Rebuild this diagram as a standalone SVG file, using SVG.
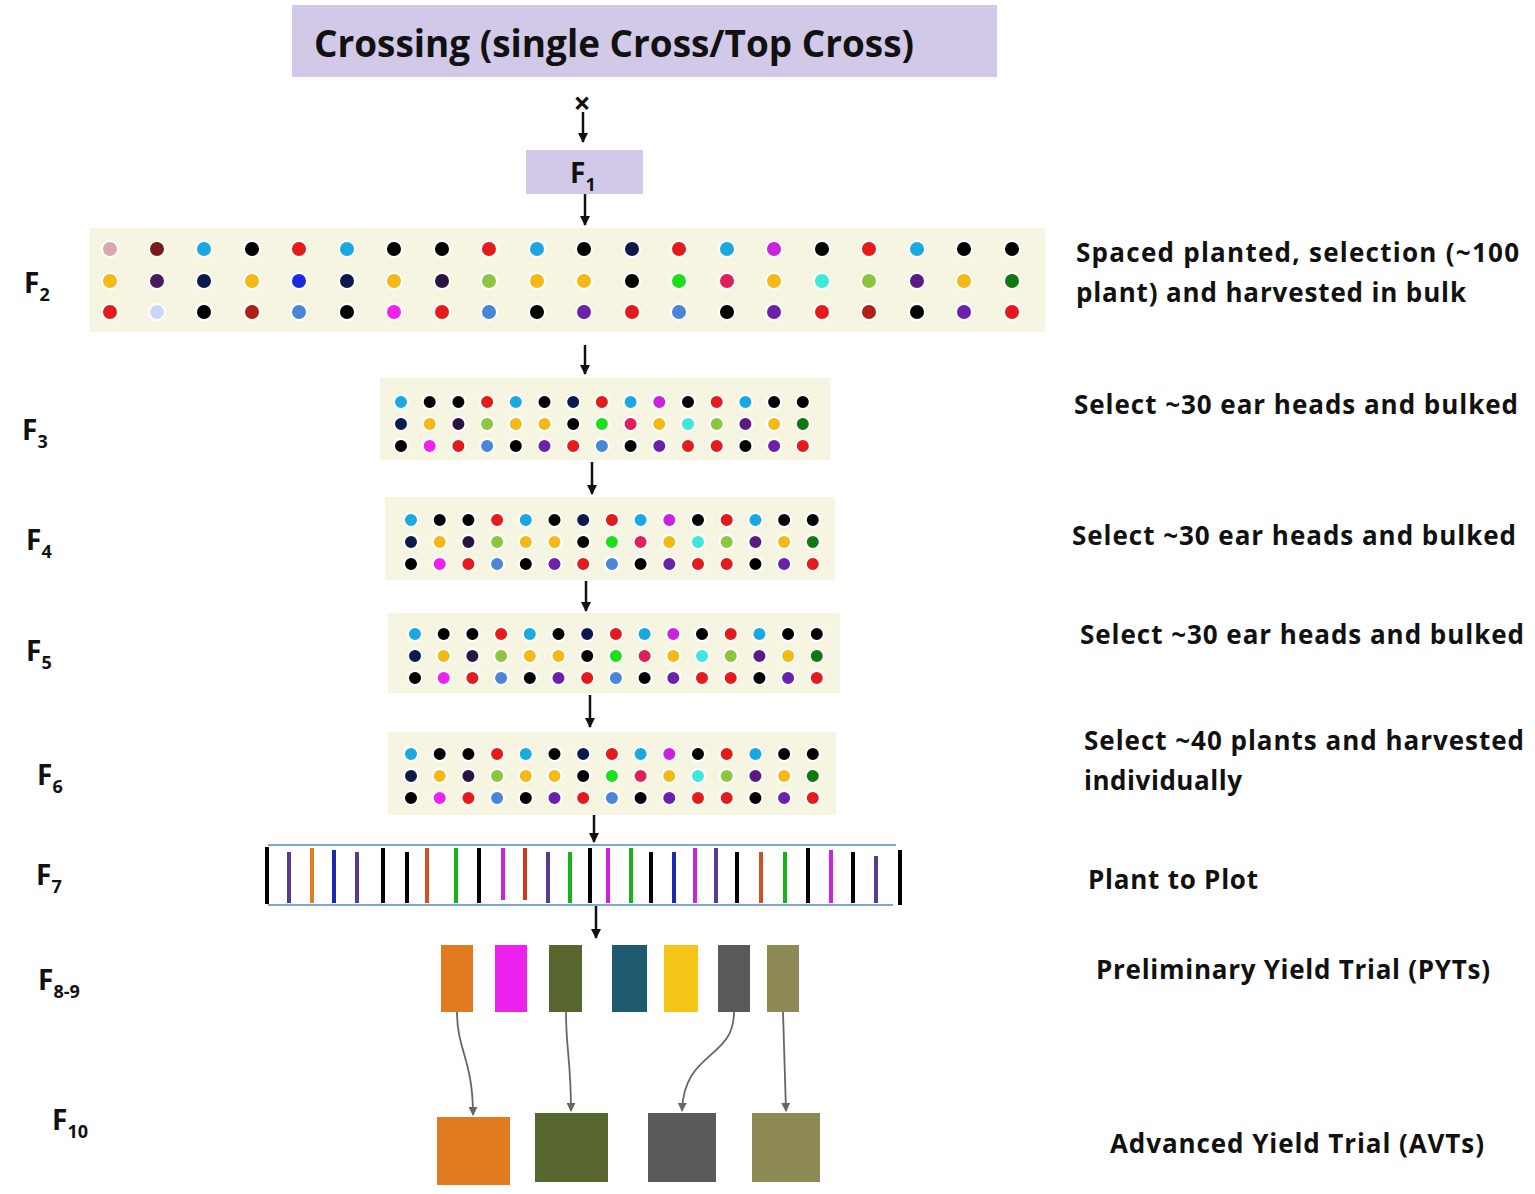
<svg xmlns="http://www.w3.org/2000/svg" width="1535" height="1194" viewBox="0 0 1535 1194">
<style>
.lab{font-family:"Open Sans","Liberation Sans",sans-serif;font-weight:bold;fill:#111}
.gen{font-family:"Open Sans","Liberation Sans",sans-serif;font-weight:bold;font-size:28px;fill:#111}
.desc{font-size:26px}
.bed{fill:#f6f5e2}
.c{stroke:#fff;stroke-width:2}
.ar{stroke:#111;stroke-width:2.5;fill:none}
.cv{stroke:#666;stroke-width:1.8;fill:none}
</style>
<defs>
<marker id="ah" viewBox="0 0 10 10" refX="9" refY="5" markerWidth="4" markerHeight="4" orient="auto"><path d="M0,0L10,5L0,10z" fill="#111"/></marker>
<marker id="ag" viewBox="0 0 10 10" refX="9" refY="5" markerWidth="5" markerHeight="5" orient="auto"><path d="M0,0L10,5L0,10z" fill="#666"/></marker>
<g id="dots15">
<g class="c">
<circle cx="0" cy="0" r="7" fill="#1aa8e0"/><circle cx="28.7" cy="0" r="7" fill="#000"/><circle cx="57.4" cy="0" r="7" fill="#000"/><circle cx="86.1" cy="0" r="7" fill="#e51a1a"/><circle cx="114.8" cy="0" r="7" fill="#1aa8e0"/><circle cx="143.5" cy="0" r="7" fill="#000"/><circle cx="172.2" cy="0" r="7" fill="#0b1a4a"/><circle cx="200.9" cy="0" r="7" fill="#e51a1a"/><circle cx="229.6" cy="0" r="7" fill="#1aa8e0"/><circle cx="258.3" cy="0" r="7" fill="#cc22dd"/><circle cx="287" cy="0" r="7" fill="#000"/><circle cx="315.7" cy="0" r="7" fill="#e51a1a"/><circle cx="344.4" cy="0" r="7" fill="#1aa8e0"/><circle cx="373.1" cy="0" r="7" fill="#000"/><circle cx="401.8" cy="0" r="7" fill="#000"/>
<circle cx="0" cy="22" r="7" fill="#0b1a4a"/><circle cx="28.7" cy="22" r="7" fill="#f5b915"/><circle cx="57.4" cy="22" r="7" fill="#2a1540"/><circle cx="86.1" cy="22" r="7" fill="#8cc63f"/><circle cx="114.8" cy="22" r="7" fill="#f5b915"/><circle cx="143.5" cy="22" r="7" fill="#f5b915"/><circle cx="172.2" cy="22" r="7" fill="#000"/><circle cx="200.9" cy="22" r="7" fill="#1adf1a"/><circle cx="229.6" cy="22" r="7" fill="#e0205a"/><circle cx="258.3" cy="22" r="7" fill="#f5b915"/><circle cx="287" cy="22" r="7" fill="#3de8d8"/><circle cx="315.7" cy="22" r="7" fill="#8cc63f"/><circle cx="344.4" cy="22" r="7" fill="#5a1a80"/><circle cx="373.1" cy="22" r="7" fill="#f5b915"/><circle cx="401.8" cy="22" r="7" fill="#117711"/>
<circle cx="0" cy="44" r="7" fill="#000"/><circle cx="28.7" cy="44" r="7" fill="#ee22ee"/><circle cx="57.4" cy="44" r="7" fill="#e51a1a"/><circle cx="86.1" cy="44" r="7" fill="#4a86d8"/><circle cx="114.8" cy="44" r="7" fill="#000"/><circle cx="143.5" cy="44" r="7" fill="#6a22aa"/><circle cx="172.2" cy="44" r="7" fill="#e51a1a"/><circle cx="200.9" cy="44" r="7" fill="#4a86d8"/><circle cx="229.6" cy="44" r="7" fill="#000"/><circle cx="258.3" cy="44" r="7" fill="#6a22aa"/><circle cx="287" cy="44" r="7" fill="#e51a1a"/><circle cx="315.7" cy="44" r="7" fill="#e51a1a"/><circle cx="344.4" cy="44" r="7" fill="#000"/><circle cx="373.1" cy="44" r="7" fill="#6a22aa"/><circle cx="401.8" cy="44" r="7" fill="#e51a1a"/>
</g>
</g>
</defs>
<rect width="1535" height="1194" fill="#fff"/>

<g id="crossing"><rect x="292" y="5" width="705" height="72" fill="#d2c9e8"/><text class="lab" x="614" y="57" font-size="37" text-anchor="middle" textLength="600" lengthAdjust="spacingAndGlyphs">Crossing (single Cross/Top Cross)</text>
<text class="lab" x="582" y="114" font-size="30" text-anchor="middle">×</text></g>
<g id="f1"><rect x="526" y="150" width="117" height="44" fill="#d2c9e8"/><text class="lab" x="570" y="183" font-size="28">F<tspan font-size="18" dy="8">1</tspan></text></g>

<g id="f2">
<rect class="bed" x="90" y="228" width="955" height="104"/>
<g class="c">
<circle cx="110" cy="249" r="8" fill="#d9a7b0"/><circle cx="157" cy="249" r="8" fill="#7a1a1a"/><circle cx="204" cy="249" r="8" fill="#1aa8e0"/><circle cx="252" cy="249" r="8" fill="#000"/><circle cx="299" cy="249" r="8" fill="#e51a1a"/><circle cx="347" cy="249" r="8" fill="#1aa8e0"/><circle cx="394" cy="249" r="8" fill="#000"/><circle cx="442" cy="249" r="8" fill="#000"/><circle cx="489" cy="249" r="8" fill="#e51a1a"/><circle cx="537" cy="249" r="8" fill="#1aa8e0"/><circle cx="584" cy="249" r="8" fill="#000"/><circle cx="632" cy="249" r="8" fill="#0b1a4a"/><circle cx="679" cy="249" r="8" fill="#e51a1a"/><circle cx="727" cy="249" r="8" fill="#1aa8e0"/><circle cx="774" cy="249" r="8" fill="#cc22dd"/><circle cx="822" cy="249" r="8" fill="#000"/><circle cx="869" cy="249" r="8" fill="#e51a1a"/><circle cx="917" cy="249" r="8" fill="#1aa8e0"/><circle cx="964" cy="249" r="8" fill="#000"/><circle cx="1012" cy="249" r="8" fill="#000"/>
<circle cx="110" cy="281" r="8" fill="#f5b915"/><circle cx="157" cy="281" r="8" fill="#4a1a5a"/><circle cx="204" cy="281" r="8" fill="#0b1a4a"/><circle cx="252" cy="281" r="8" fill="#f5b915"/><circle cx="299" cy="281" r="8" fill="#1a2ae0"/><circle cx="347" cy="281" r="8" fill="#0b1a4a"/><circle cx="394" cy="281" r="8" fill="#f5b915"/><circle cx="442" cy="281" r="8" fill="#2a1540"/><circle cx="489" cy="281" r="8" fill="#8cc63f"/><circle cx="537" cy="281" r="8" fill="#f5b915"/><circle cx="584" cy="281" r="8" fill="#f5b915"/><circle cx="632" cy="281" r="8" fill="#000"/><circle cx="679" cy="281" r="8" fill="#1adf1a"/><circle cx="727" cy="281" r="8" fill="#e0205a"/><circle cx="774" cy="281" r="8" fill="#f5b915"/><circle cx="822" cy="281" r="8" fill="#3de8d8"/><circle cx="869" cy="281" r="8" fill="#8cc63f"/><circle cx="917" cy="281" r="8" fill="#5a1a80"/><circle cx="964" cy="281" r="8" fill="#f5b915"/><circle cx="1012" cy="281" r="8" fill="#117711"/>
<circle cx="110" cy="312" r="8" fill="#e51a1a"/><circle cx="157" cy="312" r="8" fill="#c8d8f5"/><circle cx="204" cy="312" r="8" fill="#000"/><circle cx="252" cy="312" r="8" fill="#b02015"/><circle cx="299" cy="312" r="8" fill="#4a86d8"/><circle cx="347" cy="312" r="8" fill="#000"/><circle cx="394" cy="312" r="8" fill="#ee22ee"/><circle cx="442" cy="312" r="8" fill="#e51a1a"/><circle cx="489" cy="312" r="8" fill="#4a86d8"/><circle cx="537" cy="312" r="8" fill="#000"/><circle cx="584" cy="312" r="8" fill="#6a22aa"/><circle cx="632" cy="312" r="8" fill="#e51a1a"/><circle cx="679" cy="312" r="8" fill="#4a86d8"/><circle cx="727" cy="312" r="8" fill="#000"/><circle cx="774" cy="312" r="8" fill="#6a22aa"/><circle cx="822" cy="312" r="8" fill="#e51a1a"/><circle cx="869" cy="312" r="8" fill="#b02015"/><circle cx="917" cy="312" r="8" fill="#000"/><circle cx="964" cy="312" r="8" fill="#6a22aa"/><circle cx="1012" cy="312" r="8" fill="#e51a1a"/>
</g></g>

<g id="f3"><rect class="bed" x="380" y="378" width="450" height="82"/><use href="#dots15" x="401" y="402"/></g>
<g id="f4"><rect class="bed" x="385" y="497" width="450" height="83"/><use href="#dots15" x="411" y="520"/></g>
<g id="f5"><rect class="bed" x="388" y="613" width="452" height="80"/><use href="#dots15" x="415" y="634"/></g>
<g id="f6"><rect class="bed" x="388" y="732" width="448" height="83"/><use href="#dots15" x="411" y="754"/></g>

<g id="f7">
<line x1="268" y1="845" x2="896" y2="845" stroke="#7aa6d8" stroke-width="2"/>
<line x1="268" y1="905" x2="893" y2="905" stroke="#7aa6d8" stroke-width="2"/>
<g stroke-width="4">
<line x1="267" y1="847" x2="267" y2="904" stroke="#000"/><line x1="289" y1="852" x2="289" y2="903" stroke="#5a3a8a"/><line x1="312" y1="848" x2="312" y2="903" stroke="#e07b20"/><line x1="334" y1="850" x2="334" y2="903" stroke="#1a2ab0"/><line x1="357" y1="852" x2="357" y2="903" stroke="#5a3a8a"/><line x1="383" y1="848" x2="383" y2="903" stroke="#000"/><line x1="407" y1="852" x2="407" y2="903" stroke="#000"/><line x1="427" y1="848" x2="427" y2="903" stroke="#d05020"/><line x1="456" y1="848" x2="456" y2="903" stroke="#1ab01a"/><line x1="479" y1="848" x2="479" y2="903" stroke="#000"/><line x1="503" y1="848" x2="503" y2="900" stroke="#cc22dd"/><line x1="525" y1="848" x2="525" y2="900" stroke="#d03a1a"/><line x1="548" y1="852" x2="548" y2="903" stroke="#5a3a8a"/><line x1="570" y1="852" x2="570" y2="903" stroke="#1ab01a"/><line x1="590" y1="848" x2="590" y2="903" stroke="#000"/><line x1="608" y1="848" x2="608" y2="903" stroke="#cc22dd"/><line x1="631" y1="848" x2="631" y2="903" stroke="#1ab01a"/><line x1="651" y1="852" x2="651" y2="903" stroke="#000"/><line x1="674" y1="852" x2="674" y2="903" stroke="#1a2ab0"/><line x1="695" y1="848" x2="695" y2="903" stroke="#cc22dd"/><line x1="716" y1="848" x2="716" y2="903" stroke="#5a3a8a"/><line x1="737" y1="852" x2="737" y2="903" stroke="#000"/><line x1="761" y1="852" x2="761" y2="903" stroke="#d05020"/><line x1="785" y1="852" x2="785" y2="903" stroke="#1ab01a"/><line x1="808" y1="848" x2="808" y2="903" stroke="#000"/><line x1="831" y1="850" x2="831" y2="903" stroke="#cc22dd"/><line x1="853" y1="852" x2="853" y2="903" stroke="#000"/><line x1="876" y1="856" x2="876" y2="903" stroke="#5a3a8a"/><line x1="900" y1="850" x2="900" y2="905" stroke="#000"/>
</g>
</g>

<g id="pyt">
<rect x="441" y="945" width="32" height="67" fill="#e07b20"/><rect x="495" y="945" width="32" height="67" fill="#ee22ee"/><rect x="549" y="945" width="33" height="67" fill="#56662e"/><rect x="612" y="945" width="35" height="67" fill="#1e5b70"/><rect x="664" y="945" width="34" height="67" fill="#f5c518"/><rect x="718" y="945" width="32" height="67" fill="#5a5a5a"/><rect x="767" y="945" width="32" height="67" fill="#8d8a56"/>
</g>
<g id="avt">
<rect x="437" y="1117" width="73" height="68" fill="#e07b20"/><rect x="535" y="1113" width="73" height="69" fill="#56662e"/><rect x="648" y="1113" width="68" height="69" fill="#5a5a5a"/><rect x="752" y="1113" width="68" height="69" fill="#8d8a56"/>
</g>

<g id="connectors">
<line class="ar" x1="583" y1="112" x2="583" y2="142" marker-end="url(#ah)"/>
<line class="ar" x1="585" y1="194" x2="585" y2="225" marker-end="url(#ah)"/>
<line class="ar" x1="585" y1="345" x2="585" y2="374" marker-end="url(#ah)"/>
<line class="ar" x1="592" y1="462" x2="592" y2="494" marker-end="url(#ah)"/>
<line class="ar" x1="586" y1="581" x2="586" y2="611" marker-end="url(#ah)"/>
<line class="ar" x1="590" y1="695" x2="590" y2="727" marker-end="url(#ah)"/>
<line class="ar" x1="594" y1="815" x2="594" y2="842" marker-end="url(#ah)"/>
<line class="ar" x1="596" y1="906" x2="596" y2="938" marker-end="url(#ah)"/>
<path class="cv" d="M457,1012 C457,1050 473,1060 473,1115" marker-end="url(#ag)"/>
<path class="cv" d="M566,1012 C566,1050 571,1060 571,1111" marker-end="url(#ag)"/>
<path class="cv" d="M734,1012 C734,1060 684,1050 682,1111" marker-end="url(#ag)"/>
<path class="cv" d="M783,1012 L786,1111" marker-end="url(#ag)"/>
</g>

<g id="labels">
<text class="gen" x="24" y="293">F<tspan font-size="18" dy="8">2</tspan></text>
<text class="gen" x="22" y="440">F<tspan font-size="18" dy="8">3</tspan></text>
<text class="gen" x="26" y="550">F<tspan font-size="18" dy="8">4</tspan></text>
<text class="gen" x="26" y="661">F<tspan font-size="18" dy="8">5</tspan></text>
<text class="gen" x="37" y="785">F<tspan font-size="18" dy="8">6</tspan></text>
<text class="gen" x="36" y="885">F<tspan font-size="18" dy="8">7</tspan></text>
<text class="gen" x="38" y="990">F<tspan font-size="18" dy="8">8-9</tspan></text>
<text class="gen" x="52" y="1130">F<tspan font-size="18" dy="8">10</tspan></text>
<text class="lab desc" x="1076" y="262" textLength="443">Spaced planted, selection (~100</text>
<text class="lab desc" x="1076" y="302" textLength="390">plant) and harvested in bulk</text>
<text class="lab desc" x="1074" y="414" textLength="444">Select ~30 ear heads and bulked</text>
<text class="lab desc" x="1072" y="545" textLength="444">Select ~30 ear heads and bulked</text>
<text class="lab desc" x="1080" y="644" textLength="444">Select ~30 ear heads and bulked</text>
<text class="lab desc" x="1084" y="750" textLength="440">Select ~40 plants and harvested</text>
<text class="lab desc" x="1084" y="790" textLength="158">individually</text>
<text class="lab desc" x="1088" y="889" textLength="170">Plant to Plot</text>
<text class="lab desc" x="1096" y="979" textLength="394">Preliminary Yield Trial (PYTs)</text>
<text class="lab desc" x="1110" y="1153" textLength="374">Advanced Yield Trial (AVTs)</text>
</g>
</svg>
